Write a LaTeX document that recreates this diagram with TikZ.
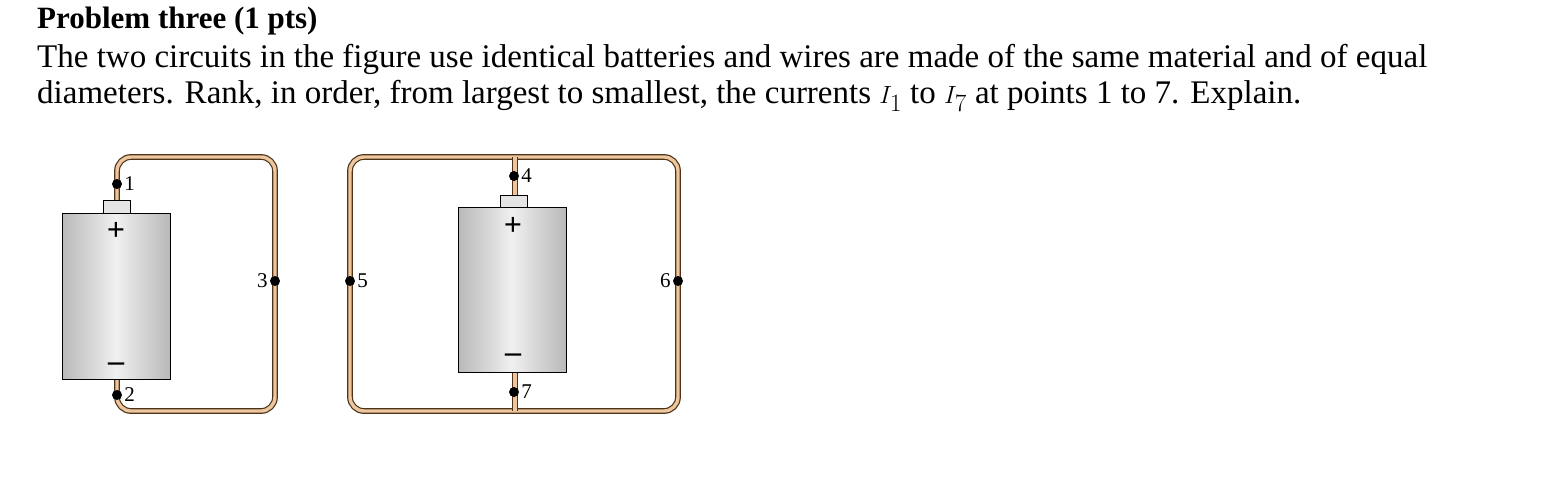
\documentclass[tikz,border=0pt]{standalone}
\usepackage{fontspec}
\setmainfont{Liberation Serif}
\begin{document}
\begin{tikzpicture}[x=1pt,y=-1pt,
 wire/.style={draw=black!60!brown,double=orange!40!brown!45!white,line width=1.2pt,double distance=3.4pt,rounded corners=14pt},
 batt/.style={draw=black,line width=1pt,left color=gray!55,right color=gray!55,middle color=gray!12},
 battcap/.style={draw=black,line width=0.8pt,fill=gray!20},
 dot/.style={circle,fill=black,inner sep=0pt,minimum size=10pt},
 lbl/.style={font=\fontsize{21}{21}\selectfont,inner sep=2pt},
 sign/.style={font=\fontsize{32}{32}\selectfont\bfseries},
 txt/.style={anchor=west,inner sep=0pt,font=\fontsize{33}{33}\selectfont}]
\useasboundingbox (0,0) rectangle (1546,496);
% text
\node[txt,font=\fontsize{31}{31}\selectfont\bfseries] (t0) at (37,21) {Problem three (1 pts)};
\node[txt] (t1) at (37,59) {The two circuits in the figure use identical batteries and wires are made of the same material and of equal};
\node[txt] (t2) at (37,96) {diameters. Rank, in order, from largest to smallest, the currents $I_1$ to $I_7$ at points 1 to 7. Explain.};
% left circuit
\draw[wire] (117,202) -- (117,157) -- (275,157) -- (275,411) -- (117,411) -- (117,378);
\node[battcap,minimum width=27pt,minimum height=13pt,inner sep=0pt] (c1) at (116.5,206.5) {};
\node[batt,minimum width=108pt,minimum height=166pt,inner sep=0pt] (b1) at (116,296) {};
\node[sign] (p1) at (116,231) {+};
\node[sign] (m1) at (116,367) {--};
\node[dot] (d1) at (117,184) {}; \node[lbl,right] (l1) at (d1.east) {1};
\node[dot] (d2) at (117,395) {}; \node[lbl,right] (l2) at (d2.east) {2};
\node[dot] (d3) at (275,281) {}; \node[lbl,left] (l3) at (d3.west) {3};
% right circuit
\draw[wire] (350,157) rectangle (678,411);
\draw[wire,rounded corners=0pt] (515,157) -- (515,198);
\draw[wire,rounded corners=0pt] (515,371) -- (515,411);
\node[battcap,minimum width=27pt,minimum height=13pt,inner sep=0pt] (c2) at (513.5,201.5) {};
\node[batt,minimum width=108pt,minimum height=165pt,inner sep=0pt] (b2) at (512,290) {};
\node[sign] (p2) at (513,226) {+};
\node[sign] (m2) at (513,358) {--};
\node[dot] (d4) at (514,176) {}; \node[lbl,right] (l4) at (d4.east) {4};
\node[dot] (d5) at (350,281) {}; \node[lbl,right] (l5) at (d5.east) {5};
\node[dot] (d6) at (678,281) {}; \node[lbl,left] (l6) at (d6.west) {6};
\node[dot] (d7) at (514,392) {}; \node[lbl,right] (l7) at (d7.east) {7};
\end{tikzpicture}
\end{document}
